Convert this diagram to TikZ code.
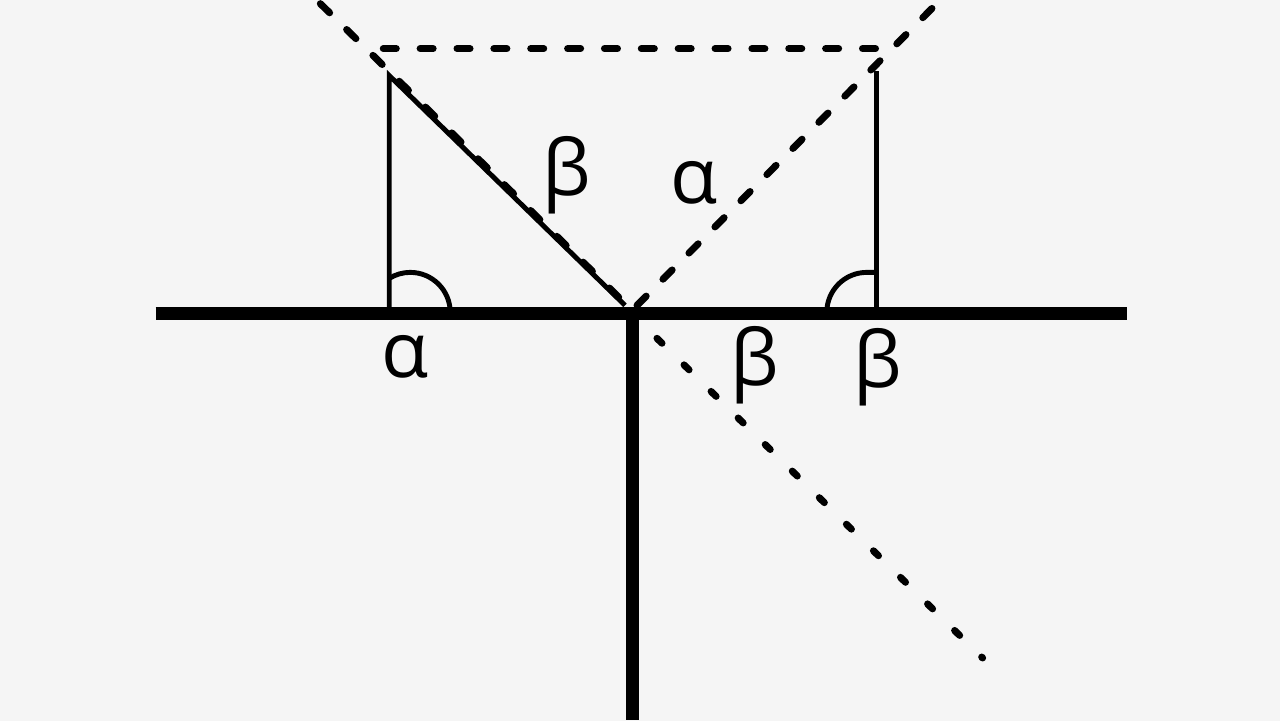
\documentclass[tikz,border=0pt]{standalone}
\usepackage{fontspec}
\setmainfont{Open Sans}
\definecolor{bg}{RGB}{245,245,245}
\tikzset{
  mirrorline/.style={line width=3.7pt,black},
  thinline/.style={line width=1.4pt,black},
  dashray/.style={line width=2pt,line cap=round,dash pattern=on 3.7pt off 6.8pt},
  dotray/.style={line width=2pt,line cap=round,dash pattern=on 2pt off 8.8pt},
  lbl/.style={font=\fontsize{22}{26}\selectfont,inner sep=0pt}
}
\begin{document}
\begin{tikzpicture}
\draw[fill=bg,bg](0,0) rectangle (12.8,7.2);
\useasboundingbox (0,0) rectangle (12.8,7.2);
\clip (0,0) rectangle (12.8,7.2);

% points
\coordinate (ML) at (1.55,4.07);
\coordinate (MR) at (11.28,4.07);
\coordinate (O) at (6.32,4.07);
\coordinate (Ob) at (6.32,-0.1);
\coordinate (A) at (3.89,4.07);
\coordinate (At) at (3.89,6.45);
\coordinate (B) at (8.77,4.07);
\coordinate (Bt) at (8.77,6.50);

% mirrors
\draw[mirrorline] (ML) -- (MR);
\draw[mirrorline] (O) -- (Ob);

% thin lines
\draw[thinline] (A) -- (At) -- (6.25,4.15);
\draw[thinline] (B) -- (Bt);
\draw[thinline] (4.50,4.08) arc[start angle=0,end angle=122,radius=0.4];
\draw[thinline] (8.27,4.08) arc[start angle=180,end angle=90,radius=0.4] -- (8.77,4.48);

% rays
\draw[dashray] (3.20,7.17) -- (6.27,4.15);
\draw[dashray] (3.83,6.72) -- (8.80,6.72);
\draw[dashray] (6.37,4.15) -- (9.40,7.20);
\draw[dotray] (6.57,3.82) -- (9.83,0.62);

% labels
\node[lbl] (b1) at (5.67,5.45) {β};
\node[lbl] (a1) at (6.94,5.38) {α};
\node[lbl] (a2) at (4.05,3.63) {α};
\node[lbl] (b2) at (7.55,3.55) {β};
\node[lbl] (b3) at (8.78,3.53) {β};
\end{tikzpicture}
\end{document}
